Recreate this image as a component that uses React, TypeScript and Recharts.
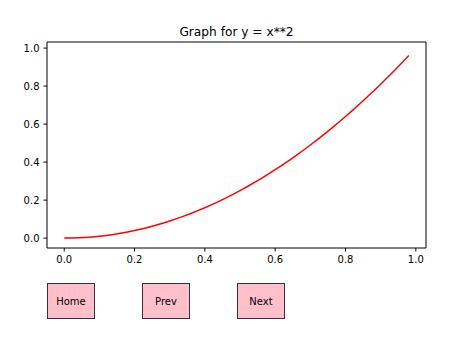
import React from "react";
import { LineChart, Line, XAxis, YAxis, ReferenceLine } from "recharts";

const xValues = [
  0.0, 0.02, 0.04, 0.06, 0.08, 0.1, 0.12, 0.14, 0.16, 0.18,
  0.2, 0.22, 0.24, 0.26, 0.28, 0.3, 0.32, 0.34, 0.36, 0.38,
  0.4, 0.42, 0.44, 0.46, 0.48, 0.5, 0.52, 0.54, 0.56, 0.58,
  0.6, 0.62, 0.64, 0.66, 0.68, 0.7, 0.72, 0.74, 0.76, 0.78,
  0.8, 0.82, 0.84, 0.86, 0.88, 0.9, 0.92, 0.94, 0.96, 0.98,
];
const yValues = [
  0.0, 0.0004, 0.0016, 0.0036, 0.0064, 0.01, 0.0144, 0.0196, 0.0256, 0.0324,
  0.04, 0.0484, 0.0576, 0.0676, 0.0784, 0.09, 0.1024, 0.1156, 0.1296, 0.1444,
  0.16, 0.1764, 0.1936, 0.2116, 0.2304, 0.25, 0.2704, 0.2916, 0.3136, 0.3364,
  0.36, 0.3844, 0.4096, 0.4356, 0.4624, 0.49, 0.5184, 0.5476, 0.5776, 0.6084,
  0.64, 0.6724, 0.7056, 0.7396, 0.7744, 0.81, 0.8464, 0.8836, 0.9216, 0.9604,
];
const xTicks = [0, 0.2, 0.4, 0.6, 0.8, 1.0];
const yTicks = [0, 0.2, 0.4, 0.6, 0.8, 1.0];
const xDomain = [-0.049, 1.029];
const yDomain = [-0.052, 1.032];
const buttonLabels = ["Home", "Prev", "Next"];
const titleText = "Graph for y = x**2";

const data = xValues.map((x, i) => ({ x, y: yValues[i] }));

const FONT = "'DejaVu Sans', sans-serif";
const fmt = (v: number) => v.toFixed(1);

export default function App() {
  const buttonLefts = [47, 142, 237];
  return (
    <div
      style={{
        position: "absolute",
        left: 0,
        top: 0,
        width: 474,
        height: 354,
        background: "#fff",
        fontFamily: FONT,
        overflow: "hidden",
      }}
    >
      <div
        style={{
          position: "absolute",
          left: 47,
          width: 379,
          top: 26,
          fontSize: 12.2,
          lineHeight: "12.2px",
          textAlign: "center",
          color: "#000",
          whiteSpace: "nowrap",
        }}
      >
        {titleText}
      </div>
      <LineChart
        width={474}
        height={354}
        data={data}
        margin={{ top: 42, right: 48, bottom: 0, left: 0 }}
        style={{ position: "absolute", left: 0, top: 0 }}
      >
        <XAxis
          dataKey="x"
          type="number"
          domain={xDomain}
          allowDataOverflow
          ticks={xTicks}
          tickFormatter={fmt}
          height={106}
          tickSize={3.5}
          tickMargin={4}
          stroke="#000"
          axisLine={{ stroke: "#000", strokeWidth: 1 }}
          tickLine={{ stroke: "#000", strokeWidth: 1 }}
          tick={{ fill: "#000", fontSize: 10, fontFamily: FONT }}
        />
        <YAxis
          type="number"
          domain={yDomain}
          allowDataOverflow
          ticks={yTicks}
          tickFormatter={fmt}
          width={47}
          tickSize={3.5}
          tickMargin={4}
          stroke="#000"
          axisLine={{ stroke: "#000", strokeWidth: 1 }}
          tickLine={{ stroke: "#000", strokeWidth: 1 }}
          tick={{ fill: "#000", fontSize: 10, fontFamily: FONT }}
        />
        <ReferenceLine
          y={yDomain[1]}
          stroke="#000"
          strokeWidth={1}
          ifOverflow="visible"
        />
        <ReferenceLine
          x={xDomain[1]}
          stroke="#000"
          strokeWidth={1}
          ifOverflow="visible"
        />
        <Line
          type="linear"
          dataKey="y"
          stroke="#ff0000"
          strokeWidth={1.5}
          dot={false}
          activeDot={false}
          isAnimationActive={false}
        />
      </LineChart>
      {buttonLabels.map((label, i) => (
        <div
          key={label}
          style={{
            position: "absolute",
            left: buttonLefts[i],
            top: 283,
            width: 48,
            height: 36,
            boxSizing: "border-box",
            border: "1px solid #333",
            background: "#ffc0cb",
            display: "flex",
            alignItems: "center",
            justifyContent: "center",
            fontSize: 10,
            color: "#000",
          }}
        >
          {label}
        </div>
      ))}
    </div>
  );
}
